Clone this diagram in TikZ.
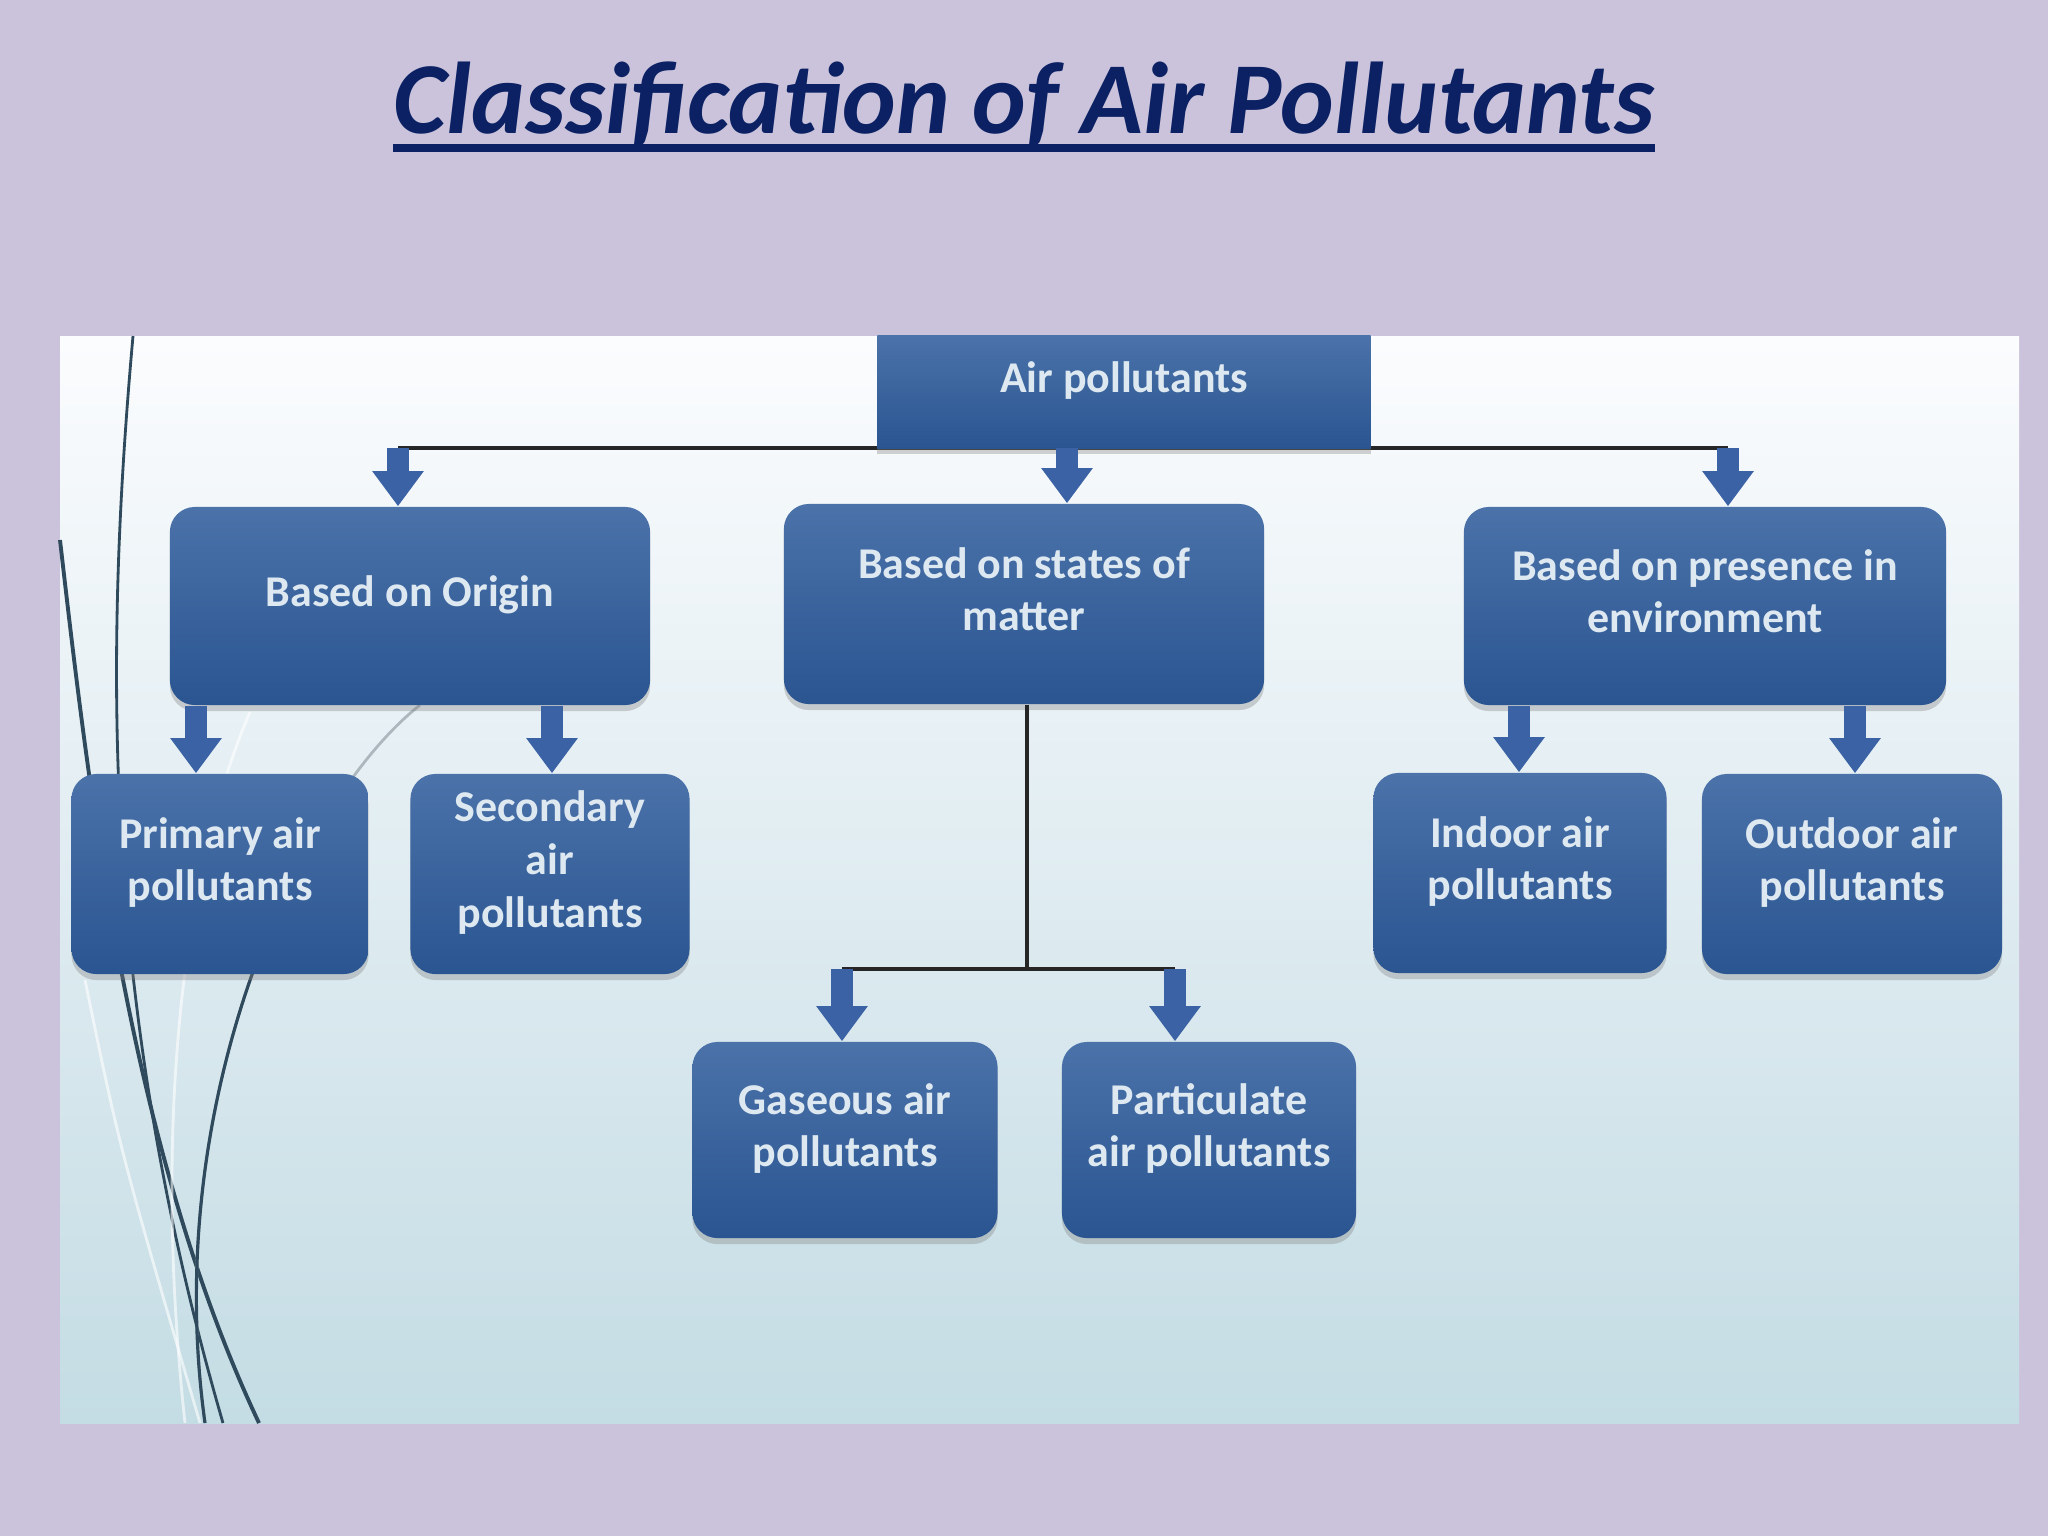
\documentclass[tikz,border=0pt]{standalone}
\usepackage{fontspec}
\setmainfont{Carlito}
\usetikzlibrary{arrows.meta,shadows}

\definecolor{slidebg}{HTML}{CBC3DB}
\definecolor{titleblue}{HTML}{0B2163}
\definecolor{boxtop}{HTML}{4B72A9}
\definecolor{boxbot}{HTML}{2A5591}
\definecolor{boxtext}{HTML}{DDE8F1}
\definecolor{paneltop}{HTML}{FBFCFE}
\definecolor{panelbot}{HTML}{C4DCE4}
\definecolor{arrowblue}{HTML}{3A62A4}
\definecolor{vine}{HTML}{2F4A5C}

\tikzset{
  box/.style={rounded corners=0.25cm, top color=boxtop, bottom color=boxbot,
    text=boxtext, font=\bfseries\fontsize{12.5}{15}\selectfont, align=center,
    inner sep=0pt, text depth=0.3cm,
    drop shadow={shadow xshift=0cm, shadow yshift=-0.06cm, opacity=0.35}},
  fat/.style={arrowblue, line width=6pt, -{Triangle[width=14pt,length=10pt]}},
  link/.style={black!85, line width=0.9pt},
}

\begin{document}
\begin{tikzpicture}[x=0.01cm, y=-0.01cm]
% slide and panel
\fill[slidebg] (0,0) rectangle (2048,1536);
\shade[top color=paneltop, bottom color=panelbot] (60,336) rectangle (2019,1423);

% title
\node[font=\bfseries\itshape\fontsize{29}{35}\selectfont, text=titleblue, inner sep=0pt, anchor=base] (title) at (1024,133) {Classification of Air Pollutants};
\draw[titleblue, line width=2pt] ([yshift=-0.15cm]title.base west) -- ([yshift=-0.15cm]title.base east);

% vines on the left
\draw[vine, line width=0.8pt] (133,336) .. controls (105,650) and (100,1000) .. (223,1423);
\draw[vine, line width=1.1pt] (60,540) .. controls (90,800) and (130,1150) .. (259,1423);
\draw[vine!40, line width=0.8pt] (420,705) .. controls (300,800) and (160,1100) .. (205,1423);
\begin{scope}
  \clip (60,973) rectangle (700,1423);
  \draw[vine, line width=0.9pt] (420,705) .. controls (300,800) and (160,1100) .. (205,1423);
\end{scope}
\draw[white, opacity=0.6, line width=0.8pt] (250,712) .. controls (190,850) and (150,1100) .. (185,1423);
\draw[white, opacity=0.6, line width=0.8pt] (85,980) .. controls (120,1150) .. (200,1423);

% top level
\draw[link] (398,448) -- (1728,448);
\node[box, sharp corners, minimum width=4.93cm, minimum height=1.12cm] (ap) at (1124,392) {Air pollutants};

\node[box, minimum width=4.8cm, minimum height=1.98cm] (origin) at (410,606) {Based on Origin};
\node[box, minimum width=4.8cm, minimum height=2cm] (states) at (1024,604) {Based on states of\\matter};
\node[box, minimum width=4.82cm, minimum height=1.98cm] (presence) at (1705,606) {Based on presence in\\environment};

\node[box, minimum width=2.97cm, minimum height=2cm] (primary) at (220,874) {Primary air\\pollutants};
\node[box, minimum width=2.79cm, minimum height=2cm] (secondary) at (550,874) {Secondary\\air\\pollutants};
\node[box, minimum width=2.93cm, minimum height=2cm] (indoor) at (1520,873) {Indoor air\\pollutants};
\node[box, minimum width=3cm, minimum height=2cm] (outdoor) at (1852,874) {Outdoor air\\pollutants};
\node[box, minimum width=3.05cm, minimum height=1.96cm] (gaseous) at (845,1140) {Gaseous air\\pollutants};
\node[box, minimum width=2.94cm, minimum height=1.96cm] (particulate) at (1209,1140) {Particulate\\air pollutants};

% arrows
\foreach \x/\n in {398/origin,1067/states,1728/presence}
  \draw[fat] (\x,448) -- (\x,448 |- \n.north);
\foreach \x/\n in {196/primary,552/secondary}
  \draw[fat] (\x,0 |- origin.south) -- (\x,0 |- \n.north);
\foreach \x/\n in {1519/indoor,1855/outdoor}
  \draw[fat] (\x,0 |- presence.south) -- (\x,0 |- \n.north);
\coordinate (split) at (1027,969);
\draw[link] (split |- states.south) -- (split);
\draw[link] (842,969) -- (1175,969);
\foreach \x/\n in {842/gaseous,1175/particulate}
  \draw[fat] (\x,969) -- (\x,969 |- \n.north);
\end{tikzpicture}
\end{document}
